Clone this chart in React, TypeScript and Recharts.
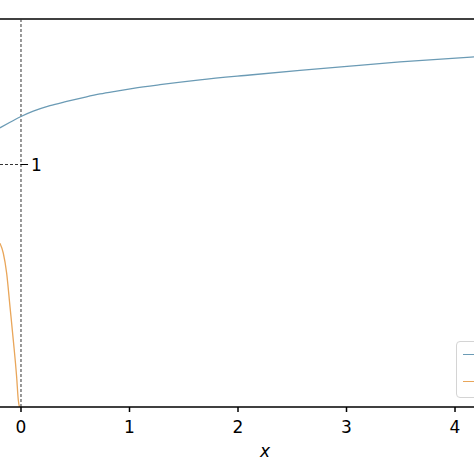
import React from "react";
import { LineChart, Line, XAxis, YAxis, ReferenceLine } from "recharts";

// values
const blueX = [-0.194, -0.101, 0, 0.113, 0.267, 0.421, 0.574, 0.728, 0.882, 1.035, 1.281, 1.65, 2.11, 2.571, 3.032, 3.493, 4.175];
const blueY = [1.151, 1.174, 1.198, 1.22, 1.243, 1.26, 1.276, 1.291, 1.303, 1.314, 1.329, 1.349, 1.369, 1.388, 1.406, 1.423, 1.444];
const orangeX = [-0.194, -0.163, -0.132, -0.101, -0.071, -0.04, -0.025, -0.014];
const orangeY = [0.675, 0.634, 0.551, 0.412, 0.276, 0.123, 0.029, 0];
const xTicks = [0, 1, 2, 3, 4];
const xDomain = [-0.1935, 4.175];
const yDomain = [0, 1.6];
const seriesNames = ["f(x)", "g(x)"];

const blueData = blueX.map((x, i) => ({ x, y: blueY[i] }));
const orangeData = orangeX.map((x, i) => ({ x, y: orangeY[i] }));

const BLUE = "#6b9bb5";
const ORANGE = "#e9a65a";
const FONT = "DejaVu Sans, sans-serif";

// legend box is cut by the right edge, only the swatches are visible
function LegendBox() {
  const colors = [BLUE, ORANGE];
  return (
    <div
      style={{
        position: "absolute",
        left: 456,
        top: 341,
        width: 40,
        height: 57,
        boxSizing: "border-box",
        border: "1px solid #d4d4d4",
        borderRadius: 4,
        background: "rgba(255,255,255,0.8)",
      }}
    >
      {colors.map((c, i) => (
        <div
          key={seriesNames[i]}
          title={seriesNames[i]}
          style={{ position: "absolute", left: 6, top: 12 + i * 27, width: 26, borderTop: `1.5px solid ${c}` }}
        />
      ))}
    </div>
  );
}

export default function App() {
  return (
    <div style={{ position: "fixed", left: 0, top: 0, width: 474, height: 474, overflow: "hidden", background: "#fff" }}>
      <LineChart width={474} height={474} margin={{ top: 19, right: 0, left: 0, bottom: 0 }}>
        <XAxis
          dataKey="x"
          type="number"
          domain={xDomain}
          allowDataOverflow
          ticks={xTicks}
          height={67}
          stroke="#000"
          strokeWidth={1.5}
          tickSize={5}
          tickMargin={9}
          tick={{ fill: "#000", fontSize: 17, fontFamily: FONT }}
          label={{ value: "x", position: "insideBottom", offset: 17, dx: 28, fill: "#000", fontSize: 17, fontStyle: "italic", fontFamily: FONT }}
        />
        <YAxis hide type="number" domain={yDomain} allowDataOverflow />
        <ReferenceLine y={1.6} stroke="#000" strokeWidth={1.5} ifOverflow="visible" />
        <ReferenceLine x={0} stroke="#333" strokeDasharray="3 2" strokeWidth={1} />
        <ReferenceLine
          segment={[{ x: xDomain[0], y: 1 }, { x: 0, y: 1 }]}
          stroke="#333"
          strokeDasharray="3 2"
          strokeWidth={1}
        />
        <ReferenceLine
          segment={[{ x: 0, y: 1 }, { x: 0.065, y: 1 }]}
          stroke="#000"
          strokeWidth={1}
          label={{ value: "1", position: "right", offset: 3, fill: "#000", fontSize: 17, fontFamily: FONT }}
        />
        <Line data={blueData} dataKey="y" name={seriesNames[0]} type="monotone" stroke={BLUE} strokeWidth={1.3} dot={false} isAnimationActive={false} />
        <Line data={orangeData} dataKey="y" name={seriesNames[1]} type="monotone" stroke={ORANGE} strokeWidth={1.3} dot={false} isAnimationActive={false} />
      </LineChart>
      <LegendBox />
    </div>
  );
}
